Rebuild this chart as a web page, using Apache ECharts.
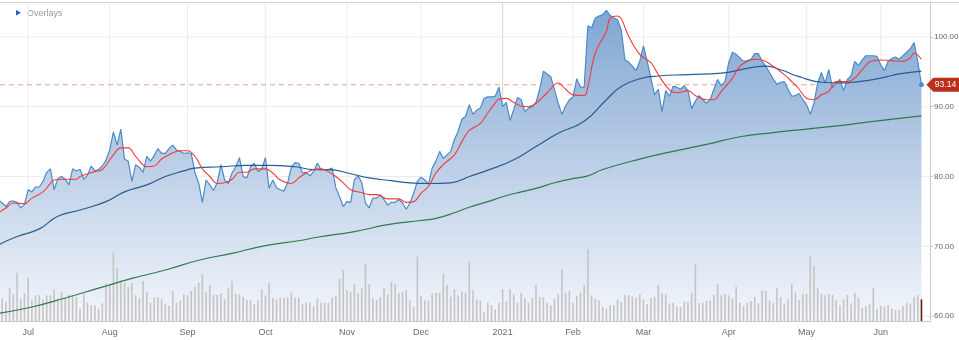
<!DOCTYPE html>
<html>
<head>
<meta charset="utf-8">
<script src="https://cdn.jsdelivr.net/npm/echarts@6/dist/echarts.min.js"></script>
<style>
  html, body { margin: 0; padding: 0; background: #fff; }
  #chart { width: 959px; height: 340px; }
</style>
</head>
<body>
<div id="chart"></div>
<script>
// daily closes, Jun 2020 .. Jun 2021 (index = trading day)
const price = [
  76.6, 76.2, 75.7, 76.4, 76.5, 76.3, 75.5, 76.0, 78.1, 77.8,
  78.5, 78.5, 79.3, 80.6, 81.1, 78.1, 79.7, 80.0, 79.6, 78.8,
  81.1, 80.8, 81.0, 79.6, 80.2, 81.5, 80.8, 81.0, 81.5, 82.3,
  83.8, 86.4, 84.5, 86.8, 82.5, 82.2, 79.3, 81.7, 81.3, 80.6,
  82.9, 82.2, 83.0, 84.0, 83.3, 83.3, 84.0, 84.5, 83.8, 83.6,
  83.3, 83.4, 83.3, 80.5, 79.1, 76.3, 79.5, 78.8, 78.0, 79.1,
  81.7, 79.5, 79.0, 80.5, 81.4, 82.7, 80.0, 79.8, 81.4, 81.9,
  80.7, 81.0, 82.7, 78.3, 79.5, 78.4, 78.1, 77.9, 79.1, 81.3,
  82.0, 81.9, 80.5, 80.6, 80.1, 80.7, 81.9, 81.0, 81.0, 81.0,
  81.2, 78.4, 77.1, 75.7, 76.4, 76.3, 79.5, 80.1, 79.1, 76.2,
  75.5, 76.9, 76.9, 77.4, 76.7, 75.9, 76.3, 76.3, 76.7, 76.2,
  75.3, 76.2, 77.6, 79.3, 79.9, 79.5, 78.9, 81.2, 82.2, 83.6,
  82.6, 83.1, 83.6, 85.3, 86.5, 88.2, 88.6, 90.3, 88.9, 89.5,
  89.8, 91.2, 91.4, 91.4, 91.5, 92.8, 90.0, 90.6, 88.0, 89.6,
  91.3, 91.0, 89.3, 89.8, 90.0, 90.6, 92.5, 95.1, 94.7, 94.3,
  92.4, 90.5, 88.9, 90.1, 91.0, 91.4, 94.0, 92.8, 92.8, 101.6,
  101.3, 102.7, 103.0, 103.2, 103.8, 103.1, 102.7, 102.5, 101.0, 96.7,
  96.4, 95.8, 95.2, 96.5, 98.7, 96.5, 94.1, 91.7, 92.5, 89.3,
  92.3, 91.5, 92.9, 92.8, 92.5, 93.0, 92.3, 89.7, 90.8, 91.6,
  91.0, 90.5, 91.0, 92.5, 93.9, 93.0, 93.6, 96.3, 97.8, 97.5,
  97.0, 96.5, 96.6, 96.8, 97.6, 97.6, 96.5, 95.8, 94.9, 94.0,
  93.2, 93.5, 93.6, 92.5, 91.5, 91.6, 91.9, 91.0, 90.3, 88.9,
  90.5, 93.4, 94.9, 93.4, 95.3, 92.7, 93.4, 93.9, 92.3, 93.9,
  94.4, 96.5, 95.9, 96.7, 97.3, 97.3, 97.3, 97.2, 96.0, 95.2,
  96.5, 96.9, 97.1, 96.8, 97.3, 97.8, 98.3, 99.2, 96.5, 93.14
];

// volume, millions of shares
const volume = [
  2.00,
  2.23, 1.90, 3.33, 2.67, 4.83, 2.17, 2.77, 4.33, 2.17, 2.57,
  2.57, 2.17, 2.57, 2.57, 3.17, 2.23, 2.93, 2.33, 2.67, 2.57,
  2.40, 1.23, 2.67, 1.83, 1.57, 1.57, 1.23, 1.77, 3.77, 3.67,
  6.83, 5.33, 4.07, 3.83, 3.40, 3.83, 2.60, 2.27, 4.00, 2.90,
  1.83, 2.33, 2.40, 2.17, 1.73, 1.50, 3.00, 1.83, 2.00, 2.67,
  2.57, 3.00, 3.43, 3.83, 4.67, 2.93, 3.60, 2.60, 2.60, 2.77,
  2.17, 3.27, 4.00, 2.73, 2.67, 2.43, 2.10, 2.10, 1.67, 2.07,
  3.17, 2.57, 3.77, 2.33, 2.17, 2.33, 2.33, 2.33, 2.83, 2.33,
  2.33, 1.67, 1.90, 1.83, 1.50, 2.23,
  1.83, 1.83, 1.83, 2.33, 2.50, 4.23, 5.10, 3.07, 2.93, 3.67,
  2.77, 3.27, 5.77, 3.67, 2.33, 2.10, 2.40, 3.33, 2.67, 3.90,
  3.67, 2.83, 2.90, 3.07, 2.07, 1.43, 6.43, 2.50, 2.07, 2.07,
  2.73, 2.83, 2.83, 4.73, 3.60, 2.43, 3.17, 2.57, 2.93, 2.83,
  5.93, 3.07, 2.17, 2.07, 0.90, 1.83, 1.57, 1.17, 1.83, 3.17,
  1.97, 3.17, 2.67, 1.83, 2.83, 2.27, 1.83, 2.33, 3.60, 2.40,
  2.40, 1.83, 1.57, 2.23, 2.67, 5.17, 2.83, 3.00, 1.83, 2.50,
  2.83, 3.57, 7.17, 2.57, 2.23, 2.07, 1.43, 1.23, 1.57, 1.57,
  2.17, 1.90, 2.60, 2.60, 2.43, 2.33,
  2.67, 2.17, 1.67, 2.27, 2.43, 3.57, 2.83, 2.67, 1.77, 1.83,
  1.43, 1.40, 1.93, 1.93, 2.83, 5.67, 1.77, 1.83, 2.00, 2.07,
  2.60, 3.67, 2.60, 2.73, 2.57, 2.27, 3.43, 1.83, 1.50, 1.83,
  2.00, 2.40, 1.77, 3.07, 3.00, 2.07, 1.83, 3.33, 2.40, 1.73,
  2.17, 3.73, 2.83, 2.07, 2.73, 2.73, 6.43, 5.50, 3.33, 2.73,
  2.57, 2.73, 2.60, 2.07, 1.57, 2.17, 2.60, 1.77, 2.83, 2.33,
  1.33, 1.50, 1.67, 3.27, 1.23, 1.50, 1.43, 1.57, 1.23, 1.10,
  1.10, 1.50, 1.83, 1.73, 2.40, 2.60, 2.17
];

// moving averages: [day index, value]
const maShort = [
  [0, 74.8], [2, 75.5], [4, 76.2], [7, 76.1], [9, 76.9], [12, 77.8], [14, 79.0], [15, 79.5],
  [18, 79.6], [21, 79.6], [22, 80.0], [26, 80.7], [28, 81.0], [31, 83.1], [33, 84.1], [35, 84.1],
  [37, 82.9], [40, 81.4], [42, 81.5], [44, 82.5], [47, 83.4], [49, 83.7], [51, 83.7], [53, 82.9],
  [55, 81.1], [57, 80.0], [59, 79.0], [61, 79.1], [63, 79.6], [65, 80.6], [67, 80.6], [69, 81.1],
  [72, 81.1], [74, 80.5], [76, 79.5], [79, 79.0], [81, 79.8], [83, 80.5], [85, 81.0], [87, 81.1],
  [89, 80.7], [91, 80.0], [93, 79.1], [95, 78.1], [98, 77.7], [100, 77.4], [102, 77.4], [105, 76.8],
  [108, 76.8], [110, 76.3], [112, 76.4], [114, 77.6], [116, 78.6], [118, 80.5], [120, 81.7], [123, 83.1],
  [125, 85.0], [127, 86.6], [130, 87.6], [132, 89.1], [134, 90.5], [135, 91.1], [137, 91.2], [139, 90.6],
  [141, 90.1], [143, 90.0], [145, 90.5], [148, 92.0], [151, 93.4], [153, 92.5], [155, 91.7], [158, 91.6],
  [159, 92.9], [161, 97.7], [164, 100.8], [165, 102.7], [167, 103.0], [168, 102.6], [170, 100.1], [173, 97.5],
  [176, 96.3], [178, 94.6], [181, 92.4], [183, 92.0], [186, 92.3], [188, 91.6], [191, 91.0], [193, 91.0],
  [195, 92.2], [196, 92.8], [198, 94.1], [200, 95.8], [202, 96.5], [204, 96.8], [206, 96.7], [209, 95.8],
  [212, 94.6], [214, 93.6], [216, 92.5], [218, 91.2], [220, 91.0], [222, 91.7], [224, 92.2], [226, 93.6],
  [229, 93.6], [231, 94.1], [233, 95.3], [235, 96.4], [238, 96.7], [241, 96.6], [244, 96.5], [246, 97.0],
  [247, 97.7], [249, 96.8]
];
const maMid = [
  [0, 70.2], [5, 71.4], [11, 72.5], [16, 74.3], [22, 75.2], [29, 76.4], [34, 77.8], [40, 78.8],
  [45, 80.0], [50, 80.8], [53, 81.2], [60, 81.4], [67, 81.6], [73, 81.6], [80, 81.4], [85, 81.0],
  [89, 81.0], [95, 80.4], [100, 79.8], [106, 79.4], [111, 79.1], [116, 79.0], [122, 79.1], [127, 80.0],
  [133, 81.1], [139, 82.4], [145, 84.3], [151, 86.2], [158, 87.9], [164, 91.0], [168, 92.9], [173, 94.0],
  [178, 94.4], [186, 94.6], [195, 94.8], [203, 95.6], [207, 95.8], [211, 95.3], [216, 94.3], [222, 93.5],
  [227, 93.4], [232, 93.6], [238, 94.1], [243, 94.7], [249, 95.1]
];
const maLong = [
  [0, 60.4], [9, 61.3], [18, 62.6], [27, 64.0], [36, 65.4], [45, 66.6], [54, 68.0], [63, 69.0],
  [72, 70.1], [81, 70.8], [86, 71.3], [96, 72.1], [105, 73.1], [114, 73.7], [118, 74.0], [123, 74.8],
  [127, 75.6], [132, 76.4], [136, 77.1], [141, 77.8], [145, 78.3], [150, 79.1], [154, 79.6], [159, 80.1],
  [163, 81.0], [173, 82.5], [182, 83.6], [191, 84.6], [200, 85.7], [209, 86.3], [218, 86.8], [227, 87.3],
  [236, 87.9], [249, 88.7]
];

const monthStarts = [8, 30, 51, 72, 94, 114, 136, 155, 174, 197, 218, 238];
const monthLabels = ['Jul', 'Aug', 'Sep', 'Oct', 'Nov', 'Dec', '2021', 'Feb', 'Mar', 'Apr', 'May', 'Jun'];
const priceTicks = [60, 70, 80, 90, 100];

const last = price.length - 1;
const lastPrice = price[last];
const xMin = 0.4, xMax = 251.3, yMin = 59.3, yMax = 105;

const chart = echarts.init(document.getElementById('chart'));
const font = 'Liberation Sans, Arial, sans-serif';

// thin helper lines (grid + last price) drawn as plain line series under the area
const guide = (data, color, type) => ({
    type: 'line',
    z: 1,
    silent: true,
    data,
    showSymbol: false,
    lineStyle: { color, width: 1, type },
});

chart.setOption({
    animation: false,
    grid: [{ left: 0, right: 29, top: 2, bottom: 19, containLabel: false, outerBoundsMode: 'none' }],
    xAxis: {
        type: 'value',
        min: xMin,
        max: xMax,
        axisLine: { show: true, lineStyle: { color: '#c8c8c8' } },
        axisTick: { show: false, customValues: monthStarts },
        axisLabel: {
            customValues: monthStarts,
            color: '#6b6b6b',
            fontSize: 9,
            fontFamily: font,
            margin: 7,
            formatter: v => monthLabels[monthStarts.indexOf(Math.round(v))] || ''
        },
        splitLine: { show: false },
    },
    yAxis: [
        {
            type: 'value',
            position: 'right',
            min: yMin,
            max: yMax,
            axisLine: { show: true, lineStyle: { color: '#c8c8c8' } },
            axisTick: { show: true, length: 3, customValues: priceTicks, lineStyle: { color: '#c8c8c8' } },
            axisLabel: {
                customValues: priceTicks,
                color: '#666',
                fontSize: 8,
                fontFamily: font,
                margin: 4,
                formatter: v => v.toFixed(2)
            },
            splitLine: { show: false },
        },
        {
            type: 'value',
            min: 0,
            max: 31.9,
            show: false,
        },
    ],
    graphic: [
        { type: 'line', shape: { x1: 0, y1: 2.5, x2: 959, y2: 2.5 }, style: { stroke: '#d0d0d0', lineWidth: 1 } },
        { type: 'polygon', shape: { points: [[16, 10], [16, 15.5], [21, 12.7]] }, style: { fill: '#1f5fd0' } },
        { type: 'text', style: { x: 27, y: 14, text: 'Overlays', fill: '#999', font: '9px ' + font, verticalAlign: 'middle' } },
    ],
    series: [
        ...monthStarts.map((m, i) => guide([[m, yMin], [m, yMax]],
            monthLabels[i] === '2021' ? '#d6d6d6' : '#ececec', 'solid')),
        ...priceTicks.map(t => guide([[xMin, t], [xMax, t]], '#ececec', 'solid')),
        guide([[xMin, lastPrice], [xMax, lastPrice]], '#eea08c', [5, 4]),
        {
            name: 'Price',
            type: 'line',
            z: 2,
            data: price.map((v, i) => [i, v]),
            showSymbol: false,
            lineStyle: { color: '#4a8bc8', width: 1.2 },
            areaStyle: {
                origin: 'start',
                opacity: 1,
                color: new echarts.graphic.LinearGradient(0, 0, 0, 1, [
                    { offset: 0, color: '#80a6d2' },
                    { offset: 0.5, color: '#bccfe7' },
                    { offset: 1, color: '#f3f6fb' },
                ]),
            },
        },
        {
            name: 'Volume',
            type: 'bar',
            z: 3,
            yAxisIndex: 1,
            barWidth: 1.6,
            data: volume.map((v, i) => ({
                value: [i, v],
                itemStyle: { color: i === last ? '#6e1a1a' : '#c6c3c3' }
            })),
        },
        {
            name: 'MA200',
            type: 'line',
            z: 4,
            data: maLong,
            smooth: true,
            showSymbol: false,
            lineStyle: { color: '#2f7a4b', width: 1.2 },
        },
        {
            name: 'MA50',
            type: 'line',
            z: 4,
            data: maMid,
            smooth: true,
            showSymbol: false,
            lineStyle: { color: '#245e93', width: 1.2 },
        },
        {
            name: 'MA10',
            type: 'line',
            z: 5,
            data: maShort,
            smooth: 0.4,
            showSymbol: false,
            lineStyle: { color: '#f23a3a', width: 1.1 },
        },
        {
            name: 'Last',
            type: 'scatter',
            z: 6,
            data: [[last, lastPrice]],
            symbolSize: 5,
            itemStyle: { color: '#3f80c4' },
            markPoint: {
                silent: true,
                symbol: 'path://M0,5 L6,0 L30,0 L30,10 L6,10 Z',
                symbolSize: [34, 14],
                symbolOffset: [22, 0],
                itemStyle: { color: '#b9301c' },
                label: {
                    show: true,
                    formatter: lastPrice.toFixed(2),
                    color: '#fff',
                    fontSize: 8.5,
                    fontFamily: font,
                    offset: [2, 0],
                },
                data: [{ coord: [last, lastPrice] }],
            },
        },
    ],
});
</script>
</body>
</html>
